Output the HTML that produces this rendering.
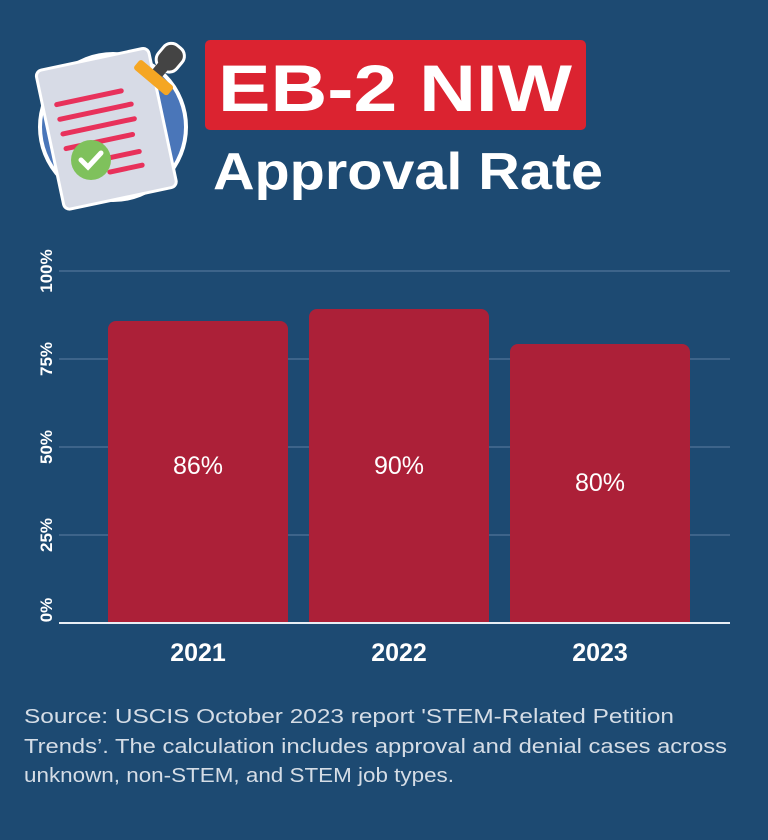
<!DOCTYPE html>
<html><head><meta charset="utf-8"><style>
body{margin:0;width:768px;height:840px;background:#1d4a72;overflow:hidden;font-family:"Liberation Sans",sans-serif;}
</style></head><body>
<svg width="768" height="840" xmlns="http://www.w3.org/2000/svg" style="position:absolute;left:0;top:0">
<rect width="768" height="840" fill="#1d4a72"/>
<!-- icon -->
<circle cx="113" cy="127" r="73" fill="#4a76b9" stroke="#fff" stroke-width="4"/>
<g transform="rotate(-12 105 125)">
<rect x="48" y="58" width="115" height="142" rx="6" fill="#d7dbe6" stroke="#fff" stroke-width="3"/>
<g stroke="#e8315b" stroke-width="5" stroke-linecap="round">
<line x1="62" y1="95" x2="128" y2="95"/><line x1="62" y1="110" x2="135" y2="110"/>
<line x1="62" y1="125" x2="135" y2="125"/><line x1="62" y1="140" x2="130" y2="140"/>
<line x1="100" y1="158" x2="133" y2="158"/><line x1="100" y1="172" x2="133" y2="172"/>
</g></g>
<circle cx="91" cy="160" r="20" fill="#7fc15c"/>
<path d="M81 160 l7 7 l13 -14" stroke="#fff" stroke-width="5" fill="none" stroke-linecap="round"/>
<g transform="rotate(40 160 70)">
<rect x="148" y="40" width="24" height="28" rx="10" fill="#444" stroke="#fff" stroke-width="3"/>
<rect x="154" y="64" width="12" height="12" fill="#444"/>
<rect x="138" y="74" width="44" height="12" rx="3" fill="#f5a623"/>
</g>
<!-- title -->
<rect x="205" y="40" width="381" height="90" rx="5" fill="#db2330"/>
<text x="218" y="111" font-size="66" font-weight="bold" fill="#fff" textLength="354" lengthAdjust="spacingAndGlyphs">EB-2 NIW</text>
<text x="213" y="189" font-size="52" font-weight="bold" fill="#fff" textLength="390" lengthAdjust="spacingAndGlyphs">Approval Rate</text>
<!-- grid -->
<g stroke="#5d7fa2" stroke-width="1">
<line x1="59" y1="271" x2="730" y2="271"/><line x1="59" y1="359" x2="730" y2="359"/>
<line x1="59" y1="447" x2="730" y2="447"/><line x1="59" y1="535" x2="730" y2="535"/>
</g>
<g font-size="17" font-weight="bold" fill="#fff" text-anchor="middle">
<text transform="translate(52 271) rotate(-90)">100%</text>
<text transform="translate(52 359) rotate(-90)">75%</text>
<text transform="translate(52 447) rotate(-90)">50%</text>
<text transform="translate(52 535) rotate(-90)">25%</text>
<text transform="translate(52 610) rotate(-90)">0%</text>
</g>
<g fill="#ac2038">
<path d="M108 623 V329 a8 8 0 0 1 8 -8 H280 a8 8 0 0 1 8 8 V623Z"/>
<path d="M309 623 V317 a8 8 0 0 1 8 -8 H481 a8 8 0 0 1 8 8 V623Z"/>
<path d="M510 623 V352 a8 8 0 0 1 8 -8 H682 a8 8 0 0 1 8 8 V623Z"/>
</g>
<line x1="59" y1="623" x2="730" y2="623" stroke="#e8eef5" stroke-width="2"/>
<g font-size="25" fill="#fff" text-anchor="middle">
<text x="198" y="474">86%</text><text x="399" y="474">90%</text><text x="600" y="491">80%</text>
</g>
<g font-size="25" font-weight="bold" fill="#fff" text-anchor="middle">
<text x="198" y="661">2021</text><text x="399" y="661">2022</text><text x="600" y="661">2023</text>
</g>
<g font-size="20" fill="#d5dde6">
<text x="24" y="723" textLength="650" lengthAdjust="spacingAndGlyphs">Source: USCIS October 2023 report 'STEM-Related Petition</text>
<text x="24" y="753" textLength="703" lengthAdjust="spacingAndGlyphs">Trends’. The calculation includes approval and denial cases across</text>
<text x="24" y="782" textLength="430" lengthAdjust="spacingAndGlyphs">unknown, non-STEM, and STEM job types.</text>
</g>
</svg>
</body></html>
